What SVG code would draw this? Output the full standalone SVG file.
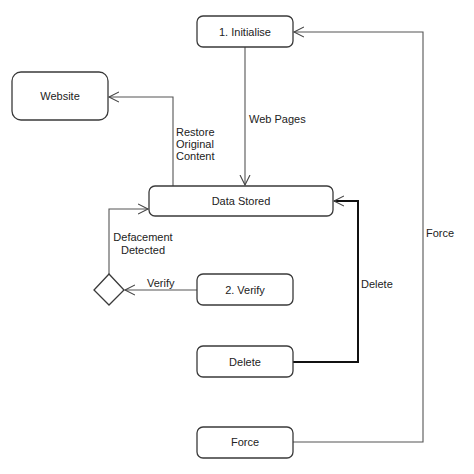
<svg xmlns="http://www.w3.org/2000/svg" width="474" height="474" viewBox="0 0 474 474">
<style>
.box{fill:#fff;stroke:#3a3a3a;stroke-width:1.3}
.t{font-family:"Liberation Sans",Arial,sans-serif;font-size:11px;fill:#222}
.c{text-anchor:middle}
.ln{fill:none;stroke:#555;stroke-width:1.1}
.thick{stroke:#111;stroke-width:2}
</style>
<defs>
<marker id="open" markerWidth="12" markerHeight="12" refX="10" refY="6" orient="auto" markerUnits="userSpaceOnUse">
<path d="M0,1 L10,6 L0,11" fill="none" stroke="#444" stroke-width="1.1"/>
</marker>
</defs>
<rect width="474" height="474" fill="#fff"/>
<g id="connectors">
<path class="ln" d="M245,47 V185" marker-end="url(#open)"/>
<path class="ln" d="M173,186 V97 H109" marker-end="url(#open)"/>
<path class="ln" d="M293,442 H423 V32 H294" marker-end="url(#open)"/>
<path class="ln thick" d="M293,362 H358 V201 H334" marker-end="url(#open)"/>
<path class="ln" d="M197,290 H125" marker-end="url(#open)"/>
<path class="ln" d="M109,274 V209 H148" marker-end="url(#open)"/>
<text class="t" x="249" y="123">Web Pages</text>
<text class="t" x="176" y="136">Restore</text>
<text class="t" x="176" y="148">Original</text>
<text class="t" x="176" y="160">Content</text>
<text class="t" x="426" y="237">Force</text>
<text class="t" x="361" y="288">Delete</text>
<text class="t" x="147" y="287">Verify</text>
<text class="t c" x="143" y="241">Defacement</text>
<text class="t c" x="143" y="254">Detected</text>
</g>
<g id="initialise"><rect class="box" x="197" y="16" width="96" height="31" rx="6"/><text class="t c" x="245" y="36">1. Initialise</text></g>
<g id="website"><rect class="box" x="12" y="72" width="96" height="48" rx="9"/><text class="t c" x="60" y="100">Website</text></g>
<g id="datastored"><rect class="box" x="149" y="186" width="184" height="30" rx="6"/><text class="t c" x="241" y="205">Data Stored</text></g>
<g id="decision"><path class="box" d="M109,274 L124,290 L109,305 L94,290 Z"/></g>
<g id="verify"><rect class="box" x="197" y="274" width="96" height="31" rx="6"/><text class="t c" x="245" y="294">2. Verify</text></g>
<g id="delete"><rect class="box" x="197" y="346" width="96" height="31" rx="6"/><text class="t c" x="245" y="366">Delete</text></g>
<g id="force"><rect class="box" x="197" y="427" width="96" height="31" rx="6"/><text class="t c" x="245" y="446">Force</text></g>
</svg>
